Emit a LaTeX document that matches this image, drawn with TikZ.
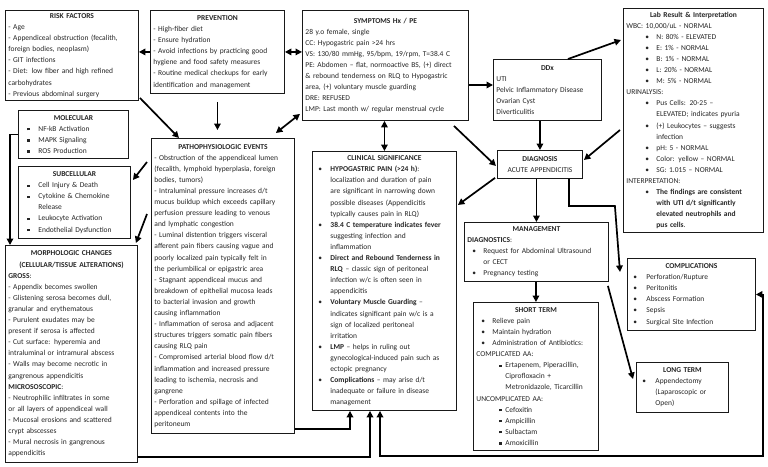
\documentclass[tikz,border=0pt]{standalone}
\usepackage{fontspec}
\setmainfont{Carlito}
\usetikzlibrary{arrows.meta,calc}
\newcommand\fsz{\fontsize{7.5}{11.1}\selectfont}
\newcommand\ttl[1]{\makebox[\hsize][c]{\bfseries #1}}
\newcommand\bul[2]{\hspace*{#1}\makebox[#2][l]{\textbullet}}
\newcommand\sqb[2]{\hspace*{#1}\makebox[#2][l]{\rule[0.12em]{0.3em}{0.3em}}}
\tikzset{
  box/.style={draw=black!90, line width=0.9pt, anchor=north west, align=left,
    inner xsep=3pt, inner ysep=2pt, font=\fsz, text=black!85, fill=white},
  arr/.style={line width=1.7pt, black, -{Triangle[length=6.5pt,width=6.5pt]}},
  arrb/.style={line width=1.7pt, black, {Triangle[length=6.5pt,width=6.5pt]}-{Triangle[length=6.5pt,width=6.5pt]}},
}
\begin{document}
\begin{tikzpicture}[x=1pt,y=-1pt]
\useasboundingbox[fill=white] (0,0) rectangle (768,466);

\node[box, text width=127pt, minimum height=90pt] (risk) at (5,10) {\ttl{RISK FACTORS}\\
- Age\\
- Appendiceal obstruction (fecalith,\\
foreign bodies, neoplasm)\\
- GIT infections\\
- Diet: low fiber and high refined\\
carbohydrates\\
- Previous abdominal surgery};

\node[box, text width=128pt, minimum height=83pt] (prev) at (150,10) {\ttl{PREVENTION}\\
- High-fiber diet\\
- Ensure hydration\\
- Avoid infections by practicing good\\
hygiene and food safety measures\\
- Routine medical checkups for early\\
identification and management};

\node[box, text width=160pt, minimum height=110pt] (sym) at (302,10) {\ttl{SYMPTOMS Hx / PE}\\
28 y.o female, single\\
CC: Hypogastric pain >24 hrs\\
VS: 130/80 mmHg, 95/bpm, 19/rpm, T=38.4 C\\
PE: Abdomen – flat, normoactive BS, (+) direct\\
\& rebound tenderness on RLQ to Hypogastric\\
area, (+) voluntary muscle guarding\\
DRE: REFUSED\\
LMP: Last month w/ regular menstrual cycle};

\node[box, text width=102pt, minimum height=61pt] (ddx) at (493,59) {\ttl{DDx}\\
UTI\\
Pelvic Inflammatory Disease\\
Ovarian Cyst\\
Diverticulitis};

\node[box, text width=79pt, minimum height=28pt] (diag) at (497,150) {\ttl{DIAGNOSIS}\\
\makebox[\hsize][c]{ACUTE APPENDICITIS}};

\node[box, text width=134pt, minimum height=224pt] (lab) at (623,8) {\ttl{Lab Result \& Interpretation}\\
WBC: 10,000/uL - NORMAL\\
\bul{19pt}{11pt}N: 80\% - ELEVATED\\
\bul{19pt}{11pt}E: 1\% - NORMAL\\
\bul{19pt}{11pt}B: 1\% - NORMAL\\
\bul{19pt}{11pt}L: 20\% - NORMAL\\
\bul{19pt}{11pt}M: 5\% - NORMAL\\
URINALYSIS:\\
\bul{19pt}{11pt}Pus Cells: 20-25 –\\
\hspace*{30pt}ELEVATED; indicates pyuria\\
\bul{19pt}{11pt}(+) Leukocytes – suggests\\
\hspace*{30pt}infection\\
\bul{19pt}{11pt}pH: 5 - NORMAL\\
\bul{19pt}{11pt}Color: yellow – NORMAL\\
\bul{19pt}{11pt}SG: 1.015 – NORMAL\\
INTERPRETATION:\\
\bul{19pt}{11pt}\textbf{The findings are consistent}\\
\hspace*{30pt}\textbf{with UTI d/t significantly}\\
\hspace*{30pt}\textbf{elevated neutrophils and}\\
\hspace*{30pt}\textbf{pus cells}.};

\node[box, text width=104pt, minimum height=48pt] (mol) at (18,110) {\ttl{MOLECULAR}\\
\sqb{6pt}{11pt}NF-kB Activation\\
\sqb{6pt}{11pt}MAPK Signaling\\
\sqb{6pt}{11pt}ROS Production};

\node[box, text width=106pt, minimum height=72pt] (sub) at (18,166) {\ttl{SUBCELLULAR}\\
\sqb{6pt}{11pt}Cell Injury \& Death\\
\sqb{6pt}{11pt}Cytokine \& Chemokine\\
\hspace*{17pt}Release\\
\sqb{6pt}{11pt}Leukocyte Activation\\
\sqb{6pt}{11pt}Endothelial Dysfunction};

\node[box, text width=137pt, minimum height=295pt] (patho) at (151,138) {\ttl{PATHOPHYSIOLOGIC EVENTS}\\
- Obstruction of the appendiceal lumen\\
(fecalith, lymphoid hyperplasia, foreign\\
bodies, tumors)\\
- Intraluminal pressure increases d/t\\
mucus buildup which exceeds capillary\\
perfusion pressure leading to venous\\
and lymphatic congestion\\
- Luminal distention triggers visceral\\
afferent pain fibers causing vague and\\
poorly localized pain typically felt in\\
the periumbilical or epigastric area\\
- Stagnant appendiceal mucus and\\
breakdown of epithelial mucosa leads\\
to bacterial invasion and growth\\
causing inflammation\\
- Inflammation of serosa and adjacent\\
structures triggers somatic pain fibers\\
causing RLQ pain\\
- Compromised arterial blood flow d/t\\
inflammation and increased pressure\\
leading to ischemia, necrosis and\\
gangrene\\
- Perforation and spillage of infected\\
appendiceal contents into the\\
peritoneum};

\node[box, text width=126pt, minimum height=217pt] (morph) at (5,245) {\ttl{MORPHOLOGIC CHANGES}\\
\ttl{(CELLULAR/TISSUE ALTERATIONS)}\\
\textbf{GROSS}:\\
- Appendix becomes swollen\\
- Glistening serosa becomes dull,\\
granular and erythematous\\
- Purulent exudates may be\\
present if serosa is affected\\
- Cut surface: hyperemia and\\
intraluminal or intramural abscess\\
- Walls may become necrotic in\\
gangrenous appendicitis\\
\textbf{MICROSOSCOPIC}:\\
- Neutrophilic infiltrates in some\\
or all layers of appendiceal wall\\
- Mucosal erosions and scattered\\
crypt abscesses\\
- Mural necrosis in gangrenous\\
appendicitis};

\node[box, text width=138pt, minimum height=259pt] (clin) at (312,151) {\ttl{CLINICAL SIGNIFICANCE}\\
\bul{3pt}{12pt}\textbf{HYPOGASTRIC PAIN (>24 h)}:\\
\hspace*{15pt}localization and duration of pain\\
\hspace*{15pt}are significant in narrowing down\\
\hspace*{15pt}possible diseases (Appendicitis\\
\hspace*{15pt}typically causes pain in RLQ)\\
\bul{3pt}{12pt}\textbf{38.4 C temperature indicates fever}\\
\hspace*{15pt}suggesting infection and\\
\hspace*{15pt}inflammation\\
\bul{3pt}{12pt}\textbf{Direct and Rebound Tenderness in}\\
\hspace*{15pt}\textbf{RLQ} – classic sign of peritoneal\\
\hspace*{15pt}infection w/c is often seen in\\
\hspace*{15pt}appendicitis\\
\bul{3pt}{12pt}\textbf{Voluntary Muscle Guarding} –\\
\hspace*{15pt}indicates significant pain w/c is a\\
\hspace*{15pt}sign of localized peritoneal\\
\hspace*{15pt}irritation\\
\bul{3pt}{12pt}\textbf{LMP} – helps in ruling out\\
\hspace*{15pt}gynecological-induced pain such as\\
\hspace*{15pt}ectopic pregnancy\\
\bul{3pt}{12pt}\textbf{Complications} – may arise d/t\\
\hspace*{15pt}inadequate or failure in disease\\
\hspace*{15pt}management};

\node[box, text width=138pt, minimum height=59pt] (mgmt) at (464,222) {\ttl{MANAGEMENT}\\
\textbf{DIAGNOSTICS}:\\
\bul{5pt}{11pt}Request for Abdominal Ultrasound\\
\hspace*{16pt}or CECT\\
\bul{5pt}{11pt}Pregnancy testing};

\node[box, text width=119pt, minimum height=148pt] (short) at (473,302) {\ttl{SHORT TERM}\\
\bul{5pt}{11pt}Relieve pain\\
\bul{5pt}{11pt}Maintain hydration\\
\bul{5pt}{11pt}Administration of Antibiotics:\\
COMPLICATED AA:\\
\sqb{23pt}{6pt}Ertapenem, Piperacillin,\\
\hspace*{29pt}Ciprofloxacin +\\
\hspace*{29pt}Metronidazole, Ticarcillin\\
UNCOMPLICATED AA:\\
\sqb{23pt}{6pt}Cefoxitin\\
\sqb{23pt}{6pt}Ampicillin\\
\sqb{23pt}{6pt}Sulbactam\\
\sqb{23pt}{6pt}Amoxicillin};

\node[box, text width=122pt, minimum height=72pt] (comp) at (627,258) {\ttl{COMPLICATIONS}\\
\bul{3pt}{13pt}Perforation/Rupture\\
\bul{3pt}{13pt}Peritonitis\\
\bul{3pt}{13pt}Abscess Formation\\
\bul{3pt}{13pt}Sepsis\\
\bul{3pt}{13pt}Surgical Site Infection};

\node[box, text width=86pt, minimum height=50pt] (long) at (636,362) {\ttl{LONG TERM}\\
\bul{3pt}{13pt}Appendectomy\\
\hspace*{16pt}(Laparoscopic or\\
\hspace*{16pt}Open)};

% connectors
\draw[arr] (prev.west) -- (prev.west -| risk.east);
\draw[arrb] (prev.east) -- (prev.east -| sym.west);
\draw[arr] ($(risk.south east)+(1,-3)$) -- ($(patho.north west)+(28,0)$);
\draw[arr] ($(prev.south)+(0,8)$) -- ($(prev.south |- patho.north)+(0,-8)$);
\draw[arrb] ($(sym.south west)+(-2,-7)$) -- ($(patho.north east)+(-19,-5)$);
\draw[arr] (mol.west) -| ($(morph.north west)+(5,0)$);
\draw[arr] ($(patho.north west)+(-4,24)$) -- ($(sub.north east)+(2,14)$);
\draw[arr] ($(patho.north west)+(-4,76)$) -- ($(morph.north east)+(-2,-2)$);
\draw[arr] ($(sym.north east)+(0,75)$) -- ($(ddx.north west)+(0,26)$);
\draw[arr] ($(ddx.north west)+(75,0)$) -- ($(lab.north west)+(-2,32)$);
\draw[arr] ($(lab.north west)+(-3,122)$) -- ($(diag.north east)+(1,10)$);
\draw[arr] (ddx.south -| diag.north) -- (diag.north);
\draw[arr] ($(sym.south east)+(-15,5)$) -- ($(diag.north west)+(-1,16)$);
\draw[arr] ($(diag.south west)+(-2,-1)$) -- ($(clin.north east)+(1,54)$);
\draw[arrb] (sym.south -| clin.north) -- (clin.north);
\draw[arr] (diag.south -| mgmt.north) -- (mgmt.north);
\draw[arr] ($(diag.south east)+(-14,0)$) -- ++(0,27) -- ++(46,0) -- ($(comp.north west)+(-7,14)$);
\draw[arr] (mgmt.south -| short.north) -- (short.north);
\draw[arr] ($(mgmt.south east)+(-1,4)$) -- ($(long.north west)+(-3,17)$);
\draw[arr] ($(patho.south east)+(0,-5)$) -| ($(clin.south west)+(38,0)$);
\draw[arr] ($(morph.south east)+(0,-6)$) -| ($(clin.south west)+(58,0)$);
\draw[arrb] (comp.east) -- ++(7,0) |- ($(clin.south west)+(68,45)$) -- ($(clin.south west)+(68,0)$);
\end{tikzpicture}
\end{document}
